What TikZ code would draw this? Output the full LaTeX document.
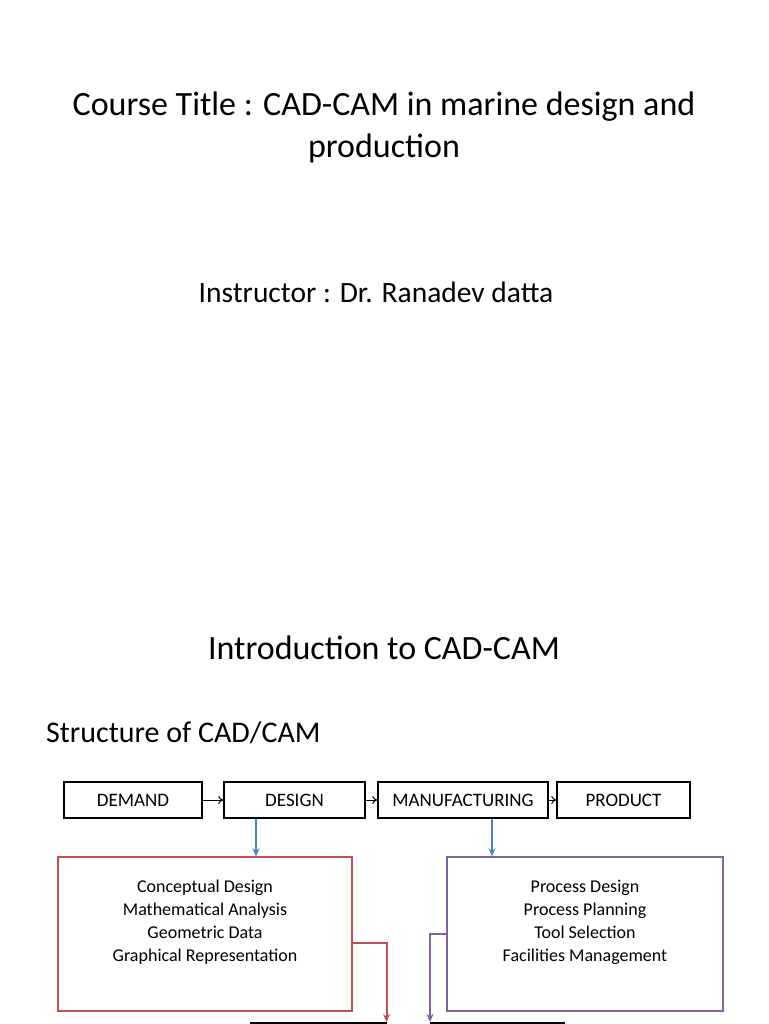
\documentclass[tikz,border=0pt]{standalone}
\usepackage{fontspec}
\setmainfont{Carlito}
\usetikzlibrary{arrows.meta,calc}
\definecolor{boxred}{RGB}{192,80,77}
\definecolor{boxpurple}{RGB}{128,100,162}
\definecolor{arrowblue}{RGB}{79,129,189}
\begin{document}
\begin{tikzpicture}[x=1pt,y=-1pt,line width=1.5pt,
  stage/.style={draw,minimum height=36pt,inner sep=0pt,font=\fontsize{19}{22}\selectfont},
  task/.style={draw,minimum width=#1,minimum height=154pt},
  tasktext/.style={align=center,font=\fontsize{18}{23}\selectfont},
  flow/.style={-{To[length=5pt,width=8pt]},line width=1pt},
  link/.style={-{Stealth[length=8pt,width=7pt]},line width=2pt}]
  \useasboundingbox (0,0) rectangle (768,1024);
  \clip (0,0) rectangle (768,1024);
  \node[font=\fontsize{34}{42}\selectfont,align=center] (title) at (384,127) {Course Title : CAD-CAM in marine design and\\production};
  \node[font=\fontsize{29.5}{34}\selectfont] (instr) at (376,292) {Instructor : Dr. Ranadev datta};
  \node[font=\fontsize{34}{40}\selectfont] (intro) at (384,648) {Introduction to CAD-CAM};
  \node[font=\fontsize{30}{34}\selectfont,anchor=west] (struct) at (42,733) {Structure of CAD/CAM};
  \node[stage,minimum width=138pt] (Demand) at (133,800) {DEMAND};
  \node[stage,minimum width=141pt] (Design) at (294.5,800) {DESIGN};
  \node[stage,minimum width=170pt] (Manuf) at (463,800) {MANUFACTURING};
  \node[stage,minimum width=133pt] (Product) at (623.5,800) {PRODUCT};
  \node[task=294pt,draw=boxred] (Cad) at (205,934) {};
  \node[task=276pt,draw=boxpurple] (Cam) at (585,934) {};
  \node[tasktext] (CadText) at (205,922) {Conceptual Design\\Mathematical Analysis\\Geometric Data\\Graphical Representation};
  \node[tasktext] (CamText) at (585,922) {Process Design\\Process Planning\\Tool Selection\\Facilities Management};
  \node[draw,minimum width=135pt,minimum height=38pt,anchor=north west] (Low0) at (250,1022) {};
  \node[draw,minimum width=133pt,minimum height=38pt,anchor=north west] (Low1) at (430,1022) {};
  \draw[flow] (Demand) -- (Design);
  \draw[flow] (Design) -- (Manuf);
  \draw[flow] (Manuf) -- (Product);
  \draw[link,arrowblue] (Design.south -| 256,0) -- (Cad.north -| 256,0);
  \draw[link,arrowblue] (Manuf.south -| 492,0) -- (Cam.north -| 492,0);
  \draw[link,boxred] ($(Cad.east)+(0,9)$) -| (Low0.north east);
  \draw[link,boxpurple] (Cam.west) -| (Low1.north west);
\end{tikzpicture}
\end{document}
